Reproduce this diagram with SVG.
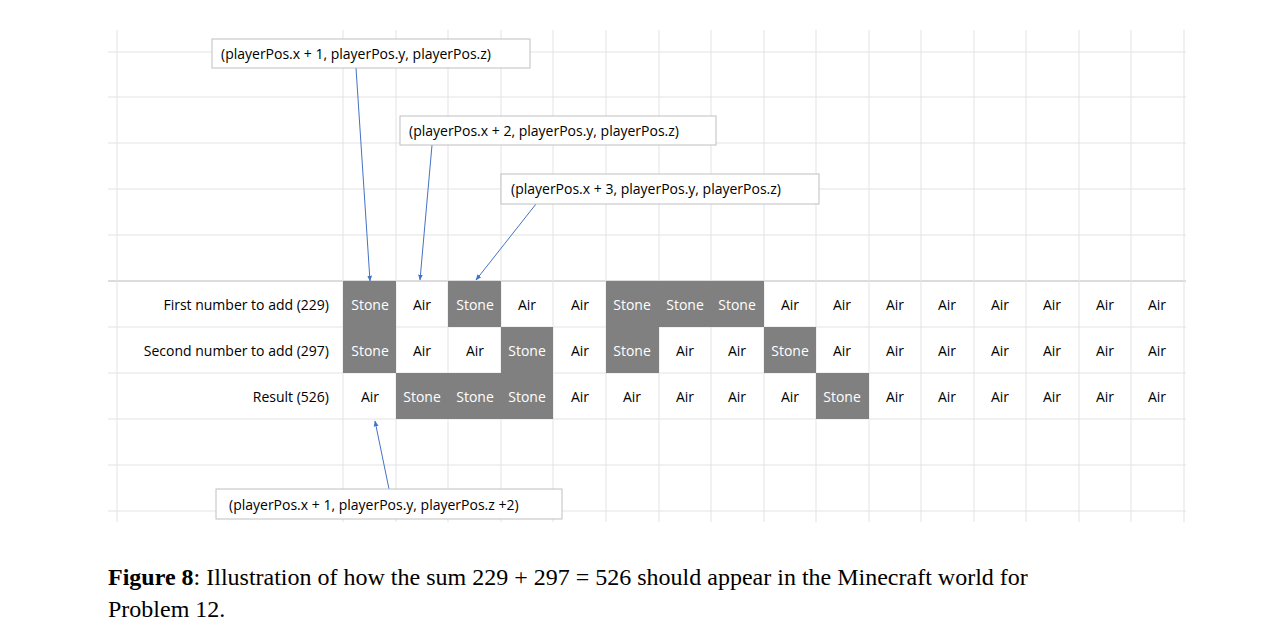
<svg xmlns="http://www.w3.org/2000/svg" width="1274" height="638" viewBox="0 0 1274 638">
<defs>
<style>
.g{stroke:#e3e3e3;stroke-width:1}
.s{fill:#808080}
.t{font-family:"Open Sans","Liberation Sans",sans-serif;font-size:14px;text-anchor:middle}
.w{fill:#fff}
.l{font-family:"Open Sans","Liberation Sans",sans-serif;font-size:14px;text-anchor:end}
.b{fill:#fff;stroke:#bfbfbf;stroke-width:1}
.bt{font-family:"Open Sans","Liberation Sans",sans-serif;font-size:14px}
.c{stroke:#4472c4;stroke-width:1;fill:none;marker-end:url(#a)}
.cap{font-family:"Liberation Serif",serif;font-size:24px}
</style>
<marker id="a" viewBox="0 0 10 10" refX="9" refY="5" markerWidth="6" markerHeight="6" orient="auto"><path d="M0,1L10,5L0,9z" fill="#4472c4"/></marker>
</defs>
<rect width="1274" height="638" fill="#fff"/>
<g id="grid">
<path class="g" d="M108,52H1186M108,97H1186M108,143H1186M108,189H1186M108,235H1186M108,327H1186M108,373H1186M108,419H1186M108,465H1186M108,511H1186"/>
<path d="M108,281H1186" stroke="#d0d0d0" stroke-width="1.5"/>
<path class="g" d="M117,30V522M343,30V522M396,30V522M448,30V522M501,30V522M553,30V522M606,30V522M659,30V522M711,30V522M764,30V522M816,30V522M869,30V522M921,30V522M974,30V522M1026,30V522M1079,30V522M1131,30V522M1184,30V522"/>
</g>
<g id="cells">
<rect class="s" x="343" y="281" width="53" height="92"/>
<rect class="s" x="448" y="281" width="53" height="46"/>
<rect class="s" x="606" y="281" width="158" height="46"/>
<rect class="s" x="501" y="327" width="52" height="92"/>
<rect class="s" x="396" y="373" width="105" height="46"/>
<rect class="s" x="606" y="327" width="53" height="46"/>
<rect class="s" x="764" y="327" width="52" height="46"/>
<rect class="s" x="816" y="373" width="53" height="46"/>
<text class="l" x="329" y="310">First number to add (229)</text>
<text class="l" x="329" y="356">Second number to add (297)</text>
<text class="l" x="329" y="402">Result (526)</text>
<g class="t">
<text class="w" x="370" y="310">Stone</text><text x="422" y="310">Air</text><text class="w" x="475" y="310">Stone</text><text x="527" y="310">Air</text><text x="580" y="310">Air</text><text class="w" x="632" y="310">Stone</text><text class="w" x="685" y="310">Stone</text><text class="w" x="737" y="310">Stone</text><text x="790" y="310">Air</text><text x="842" y="310">Air</text><text x="895" y="310">Air</text><text x="947" y="310">Air</text><text x="1000" y="310">Air</text><text x="1052" y="310">Air</text><text x="1105" y="310">Air</text><text x="1157" y="310">Air</text>
<text class="w" x="370" y="356">Stone</text><text x="422" y="356">Air</text><text x="475" y="356">Air</text><text class="w" x="527" y="356">Stone</text><text x="580" y="356">Air</text><text class="w" x="632" y="356">Stone</text><text x="685" y="356">Air</text><text x="737" y="356">Air</text><text class="w" x="790" y="356">Stone</text><text x="842" y="356">Air</text><text x="895" y="356">Air</text><text x="947" y="356">Air</text><text x="1000" y="356">Air</text><text x="1052" y="356">Air</text><text x="1105" y="356">Air</text><text x="1157" y="356">Air</text>
<text x="370" y="402">Air</text><text class="w" x="422" y="402">Stone</text><text class="w" x="475" y="402">Stone</text><text class="w" x="527" y="402">Stone</text><text x="580" y="402">Air</text><text x="632" y="402">Air</text><text x="685" y="402">Air</text><text x="737" y="402">Air</text><text x="790" y="402">Air</text><text class="w" x="842" y="402">Stone</text><text x="895" y="402">Air</text><text x="947" y="402">Air</text><text x="1000" y="402">Air</text><text x="1052" y="402">Air</text><text x="1105" y="402">Air</text><text x="1157" y="402">Air</text>
</g>
</g>
<g id="connectors">
<path class="c" d="M356,68L370,281"/>
<path class="c" d="M432,145L420,280"/>
<path class="c" d="M536,204L476,280"/>
<path class="c" d="M389,489L375,421"/>
</g>
<g id="box1"><rect class="b" x="212" y="39" width="318" height="29"/><text class="bt" x="221" y="59">(playerPos.x + 1, playerPos.y, playerPos.z)</text></g>
<g id="box2"><rect class="b" x="400" y="116" width="316" height="29"/><text class="bt" x="409" y="136">(playerPos.x + 2, playerPos.y, playerPos.z)</text></g>
<g id="box3"><rect class="b" x="501" y="174" width="318" height="30"/><text class="bt" x="511" y="194">(playerPos.x + 3, playerPos.y, playerPos.z)</text></g>
<g id="box4"><rect class="b" x="216" y="489" width="346" height="30"/><text class="bt" x="229" y="510">(playerPos.x + 1, playerPos.y, playerPos.z +2)</text></g>
<text class="cap" x="108" y="585"><tspan font-weight="bold">Figure 8</tspan>: Illustration of how the sum 229 + 297 = 526 should appear in the Minecraft world for</text>
<text class="cap" x="108" y="617">Problem 12.</text>
</svg>
